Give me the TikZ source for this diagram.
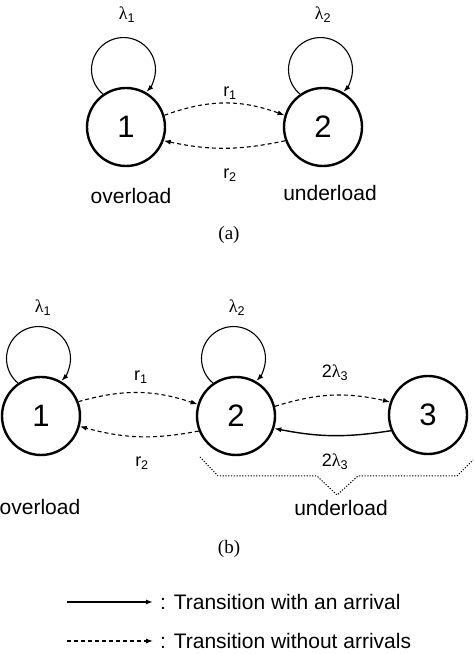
\documentclass[tikz,border=0pt]{standalone}
\usepackage{fontspec}
\setmainfont{Liberation Sans}
\newfontfamily\seriffont{Liberation Serif}
\usetikzlibrary{arrows.meta}
\newcommand\lam{{\seriffont λ}}
\begin{document}
\begin{tikzpicture}[x=1pt,y=1pt,
  state/.style={circle,draw,line width=2.4pt,minimum size=78pt,inner sep=0pt,font=\fontsize{31}{31}\selectfont},
  tip/.style={-{Latex[length=7pt,width=5pt]}},
  loopline/.style={line width=1.1pt,tip},
  dasharrow/.style={line width=1.1pt,dash pattern=on 4pt off 3pt,tip},
  solidarrow/.style={line width=1.4pt,tip},
  lbl/.style={font=\fontsize{18}{18}\selectfont,inner sep=0pt},
  txt/.style={font=\fontsize{21}{21}\selectfont,inner sep=0pt},
  captext/.style={font=\seriffont\fontsize{19}{19}\selectfont,inner sep=0pt},
  bracestyle/.style={line width=1pt,dash pattern=on 1.2pt off 1.6pt},
]
\useasboundingbox (0,0) rectangle (474,654);

% ---------- (a) ----------
\node[state] (a1) at (126,527) {1};
\node[state] (a2) at (323,527) {2};
\draw[loopline] (a1.125) arc[start angle=230,end angle=-44,radius=32pt];
\draw[loopline] (a2.125) arc[start angle=230,end angle=-44,radius=32pt];
\node[lbl] (al1) at (127,639) {\lam\textsubscript{1}};
\node[lbl] (al2) at (323,639) {\lam\textsubscript{2}};
\draw[dasharrow] (a1.17) to[bend left=20] (a2.163);
\draw[dasharrow] (a2.200) to[bend left=12] (a1.340);
\node[lbl] (ar1) at (230,561) {r\textsubscript{1}};
\node[lbl] (ar2) at (230,479) {r\textsubscript{2}};
\node[txt] (aover) at (131,458) {overload};
\node[txt] (aunder) at (330,461) {underload};
\node[captext] (capa) at (229,419) {(a)};

% ---------- (b) ----------
\node[state] (b1) at (41,238) {1};
\node[state] (b2) at (236,238) {2};
\node[state] (b3) at (428,239) {3};
\draw[loopline] (b1.125) arc[start angle=230,end angle=-44,radius=32pt];
\draw[loopline] (b2.125) arc[start angle=230,end angle=-44,radius=32pt];
\node[lbl] (bl1) at (43,346) {\lam\textsubscript{1}};
\node[lbl] (bl2) at (237,346) {\lam\textsubscript{2}};
\draw[dasharrow] (b1.21) to[bend left=17] (b2.163);
\draw[dasharrow] (b2.202) to[bend left=13] (b1.345);
\draw[dasharrow] (b2.14) to[bend left=15] (b3.161);
\draw[solidarrow] (b3.203) to[bend left=10] (b2.342);
\node[lbl] (br1) at (141,277) {r\textsubscript{1}};
\node[lbl] (br2) at (142,191) {r\textsubscript{2}};
\node[lbl] (bt1) at (335,281) {2\lam\textsubscript{3}};
\node[lbl] (bt2) at (335,192) {2\lam\textsubscript{3}};
\coordinate (k1) at (200,197);
\coordinate (k2) at (218,178);
\coordinate (k3) at (317,178);
\coordinate (k4) at (337,159);
\coordinate (k5) at (358,178);
\coordinate (k6) at (457,178);
\coordinate (k7) at (473,194);
\draw[bracestyle] (k1) -- (k2) -- (k3) -- (k4) -- (k5) -- (k6) -- (k7);
\node[txt] (bover) at (40,147) {overload};
\node[txt] (bunder) at (341,146) {underload};
\node[captext] (capb) at (229,105) {(b)};

% ---------- legend ----------
\coordinate (s1) at (67,52);
\coordinate (s2) at (153,52);
\coordinate (d1) at (67,13);
\coordinate (d2) at (153,13);
\draw[solidarrow] (s1) -- (s2);
\draw[dasharrow] (d1) -- (d2);
\node[txt,anchor=west] (leg1) at (160,52) {: Transition with an arrival};
\node[txt,anchor=west] (leg2) at (160,13) {: Transition without arrivals};
\end{tikzpicture}
\end{document}
